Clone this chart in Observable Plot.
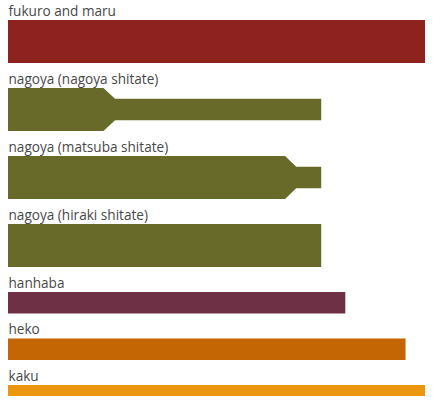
<!DOCTYPE html>
<html>
<head>
<meta charset="utf-8">
<script src="https://cdn.jsdelivr.net/npm/d3@7"></script>
<script src="https://cdn.jsdelivr.net/npm/@observablehq/plot@0.6"></script>
<style>
  html, body { margin: 0; padding: 0; background: #fff; }
  #chart svg { display: block; }
</style>
</head>
<body>
<div id="chart"></div>
<script>
// Obi types: length along x (cm), width (cm) as bar thickness
const categories = [
  "fukuro and maru",
  "nagoya (nagoya shitate)",
  "nagoya (matsuba shitate)",
  "nagoya (hiraki shitate)",
  "hanhaba",
  "heko",
  "kaku"
];
const lengths      = [450, 338, 338, 338, 364, 429, 450];
const fullWidths   = [30, 30, 30, 30, 15, 15, 7.7];
const fullEnds     = [450, 103, 299, 338, 364, 429, 450];
const narrowStarts = [450, 115.5, 311, 338, 364, 429, 450];
const narrowWidths = [30, 15, 15, 30, 15, 15, 7.7];
const colors = ["#8e221e", "#676a28", "#676a28", "#676a28", "#6d3044", "#c46604", "#ec960f"];

// layout (pixels converted to width units)
const W = 433, H = 400;
const pxPerCm = 43 / 30;
const topPad = 20 / pxPerCm;
const gap = 25 / pxPerCm;
const labelLift = 5 / pxPerCm;

const tops = [];
let acc = topPad;
categories.forEach((c, i) => { tops.push(acc); acc += fullWidths[i] + gap; });

const profile = [];
categories.forEach((cat, i) => {
  const c = tops[i] + fullWidths[i] / 2;
  const pts = [
    [0, fullWidths[i]],
    [fullEnds[i], fullWidths[i]],
    [narrowStarts[i], narrowWidths[i]],
    [lengths[i], narrowWidths[i]]
  ];
  pts.forEach(([x, w]) => profile.push({cat, x, y1: c - w / 2, y2: c + w / 2}));
});

const labels = categories.map((cat, i) => ({cat, x: 0, y: tops[i] - labelLift}));

const chart = Plot.plot({
  width: W,
  height: H,
  margin: 0,
  x: {domain: [0, 450], range: [8, 425], axis: null},
  y: {domain: [0, H / pxPerCm], range: [0, H], axis: null},
  color: {domain: categories, range: colors},
  style: {fontFamily: "'Open Sans', sans-serif", background: "#fff"},
  marks: [
    Plot.areaY(profile, {x: "x", y1: "y1", y2: "y2", z: "cat", fill: "cat", curve: "linear"}),
    Plot.text(labels, {x: "x", y: "y", text: "cat", textAnchor: "start", lineAnchor: "bottom",
      fill: "#484848", fontSize: 13.6})
  ]
});
document.getElementById("chart").appendChild(chart);
</script>
</body>
</html>
